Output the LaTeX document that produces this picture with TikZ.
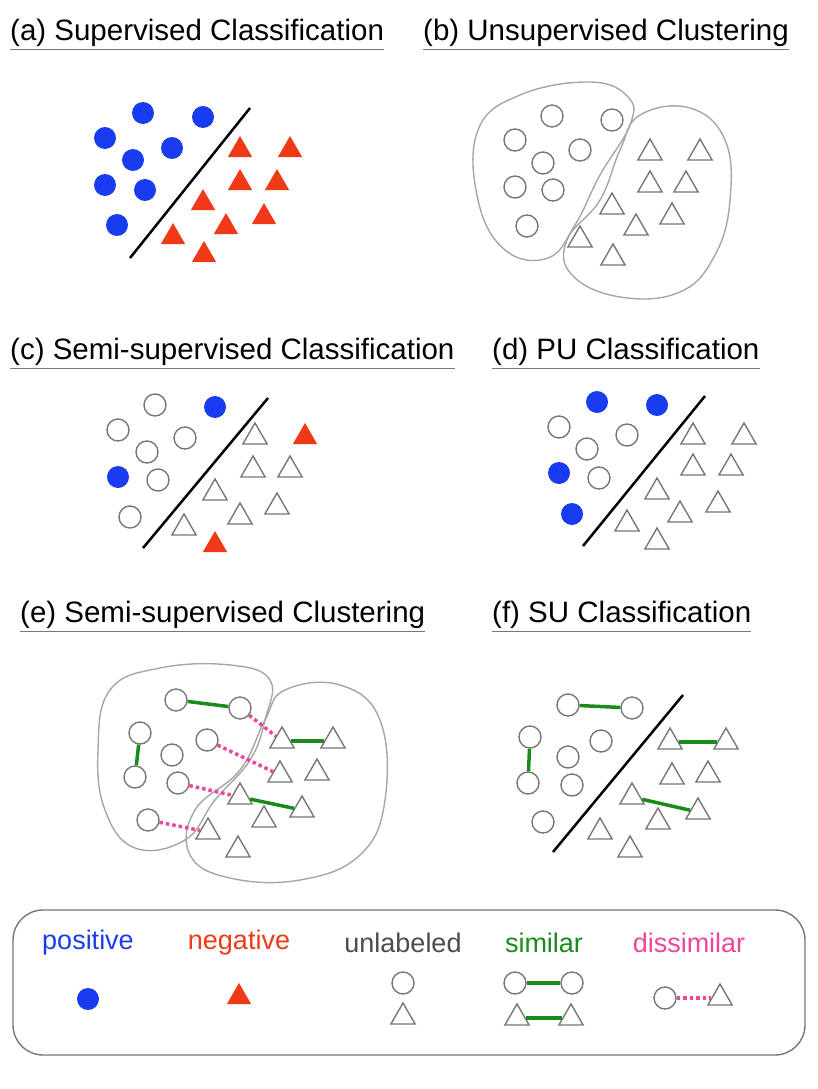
\documentclass[tikz,border=0pt]{standalone}
\usepackage{fontspec}
\setmainfont{Liberation Sans}
\usetikzlibrary{shapes.geometric}
\definecolor{pblue}{HTML}{1A3CF0}
\definecolor{nred}{HTML}{F03A17}
\definecolor{ugray}{HTML}{777777}
\definecolor{sgreen}{HTML}{1A8A1A}
\definecolor{dpink}{HTML}{F0459A}
\begin{document}
\begin{tikzpicture}[x=1pt,y=-1pt,
 title/.style={anchor=west,inner sep=0pt,font=\fontsize{29.5}{32}\selectfont},
 ppos/.style={circle,fill=pblue,minimum size=22pt,inner sep=0},
 pneg/.style={regular polygon,regular polygon sides=3,fill=nred,minimum size=28pt,inner sep=0},
 uc/.style={circle,draw=ugray,line width=1.4pt,fill=white,minimum size=22pt,inner sep=0},
 ut/.style={regular polygon,regular polygon sides=3,draw=ugray,line width=1.4pt,fill=white,minimum size=28pt,inner sep=0},
 sim/.style={sgreen,line width=3.5pt},
 dis/.style={dpink,line width=3.5pt,dash pattern=on 3.5pt off 3pt},
 sep/.style={line width=2.5pt,black},
 blob/.style={draw=gray!70,line width=1.4pt},
 leg/.style={font=\fontsize{27}{30}\selectfont}]
\useasboundingbox (0,0) rectangle (818,1089);
% titles
\foreach \n/\x/\y/\t in {ta/10/33/{(a) Supervised Classification},tb/423/33/{(b) Unsupervised Clustering},tc/10/352/{(c) Semi-supervised Classification},td/492/352/{(d) PU Classification},te/20/615/{(e) Semi-supervised Clustering},tf/492/615/{(f) SU Classification}}{
 \node[title] (\n) at (\x,\y) {\t};
 \draw[line width=1pt,ugray] ([yshift=-3pt]\n.south west) -- ([yshift=-3pt]\n.south east);}
% (a)
\draw[sep] (250,108) coordinate (a0) -- (130,258) coordinate (a1);
\foreach \x/\y [count=\i] in {105/138,143/113,203/117,133/160,172/148,105/185,145/190,117/225}\node[ppos] (ap\i) at (\x,\y) {};
\foreach \x/\y [count=\i] in {240/150,290/150,240/183,277/183,203/203,264/217,226/227,173/237,204/255}\node[pneg] (an\i) at (\x,\y) {};
% (b)
\draw[blob] plot[smooth cycle,tension=0.7] coordinates {(478,130) (520,95) (590,82) (628,97) (630,125) (600,175) (575,225) (548,258) (505,250) (478,200)};
\draw[blob] plot[smooth cycle,tension=0.7] coordinates {(640,115) (690,108) (725,140) (730,200) (715,255) (680,292) (620,297) (572,275) (567,240) (600,200) (620,150)};
\foreach \x/\y [count=\i] in {552/116,515/140,612/120,580/150,543/163,515/187,553/190,527/226}\node[uc] (bc\i) at (\x,\y) {};
\foreach \x/\y [count=\i] in {650/153,700/153,650/185,686/185,612/207,672/217,636/228,580/240,613/258}\node[ut] (bt\i) at (\x,\y) {};
% (c)
\draw[sep] (268,398) coordinate (c0) -- (143,548) coordinate (c1);
\foreach \x/\y [count=\i] in {155/405,118/430,185/438,147/452,158/480,130/517}\node[uc] (cc\i) at (\x,\y) {};
\node[ppos] (cp1) at (215,407) {}; \node[ppos] (cp2) at (118,477) {};
\foreach \x/\y [count=\i] in {255/437,253/470,290/470,215/493,277/507,240/517,184/528}\node[ut] (ct\i) at (\x,\y) {};
\node[pneg] (cn1) at (305,437) {}; \node[pneg] (cn2) at (215,545) {};
% (d)
\draw[sep] (705,396) coordinate (d0) -- (583,546) coordinate (d1);
\foreach \x/\y [count=\i] in {597/402,657/405,559/473,572/514}\node[ppos] (dp\i) at (\x,\y) {};
\foreach \x/\y [count=\i] in {559/427,627/435,587/449,599/478}\node[uc] (dc\i) at (\x,\y) {};
\foreach \x/\y [count=\i] in {693/437,744/437,693/468,731/468,657/492,680/515,718/505,627/524,657/542}\node[ut] (dt\i) at (\x,\y) {};
% (e)
\draw[blob] plot[smooth cycle,tension=0.7] coordinates {(110,690) (160,668) (230,665) (270,680) (265,720) (250,760) (215,800) (185,840) (135,848) (105,810) (98,750)};
\draw[blob] plot[smooth cycle,tension=0.7] coordinates {(285,690) (340,685) (380,720) (385,800) (360,855) (300,880) (230,878) (190,855) (195,810) (240,770) (265,720)};
\foreach \x/\y [count=\i] in {176/700,240/708,140/733,207/740,172/755,135/777,178/783,148/820}\node[uc] (ec\i) at (\x,\y) {};
\foreach \x/\y [count=\i] in {282/741,333/741,280/775,317/773,240/797,302/810,264/820,208/832,238/850}\node[ut] (et\i) at (\x,\y) {};
\draw[sim] (ec1) -- (ec2); \draw[sim] (ec3) -- (ec6);
\draw[sim] (et1) -- (et2); \draw[sim] (et5) -- (et6);
\draw[dis] (ec2) -- (et1); \draw[dis] (ec4) -- (et3);
\draw[dis] (ec7) -- (et5); \draw[dis] (ec8) -- (et8);
% (f)
\draw[sep] (683,695) coordinate (f0) -- (553,852) coordinate (f1);
\foreach \x/\y [count=\i] in {568/705,632/708,530/737,601/741,568/757,528/783,572/785,543/822}\node[uc] (fc\i) at (\x,\y) {};
\foreach \x/\y [count=\i] in {670/742,726/742,672/777,708/775,632/797,698/812,658/822,600/832,630/850}\node[ut] (ft\i) at (\x,\y) {};
\draw[sim] (fc1) -- (fc2); \draw[sim] (fc3) -- (fc6);
\draw[sim] (ft1) -- (ft2); \draw[sim] (ft5) -- (ft6);
% legend
\draw[ugray,line width=1.4pt,rounded corners=30pt] (13,910) rectangle (805,1055);
\node[leg,text=pblue] (l1) at (88,943) {positive};
\node[leg,text=nred] (l2) at (239,943) {negative};
\node[leg,text=black!70] (l3) at (403,943) {unlabeled};
\node[leg,text=sgreen] (l4) at (544,943) {similar};
\node[leg,text=dpink] (l5) at (689,943) {dissimilar};
\node[ppos] (lp) at (88,999) {};
\node[pneg] (ln) at (239,997) {};
\node[uc] (lc) at (403,983) {};
\node[ut] (lt) at (403,1017) {};
\node[uc] (s1) at (515,983) {}; \node[uc] (s2) at (572,983) {};
\node[ut] (s3) at (517,1018) {}; \node[ut] (s4) at (571,1018) {};
\draw[sim] (s1) -- (s2); \draw[sim] (s3) -- (s4);
\node[uc] (d1c) at (665,998) {}; \node[ut] (d1t) at (720,998) {};
\draw[dis] (d1c) -- (d1t);
\end{tikzpicture}
\end{document}
